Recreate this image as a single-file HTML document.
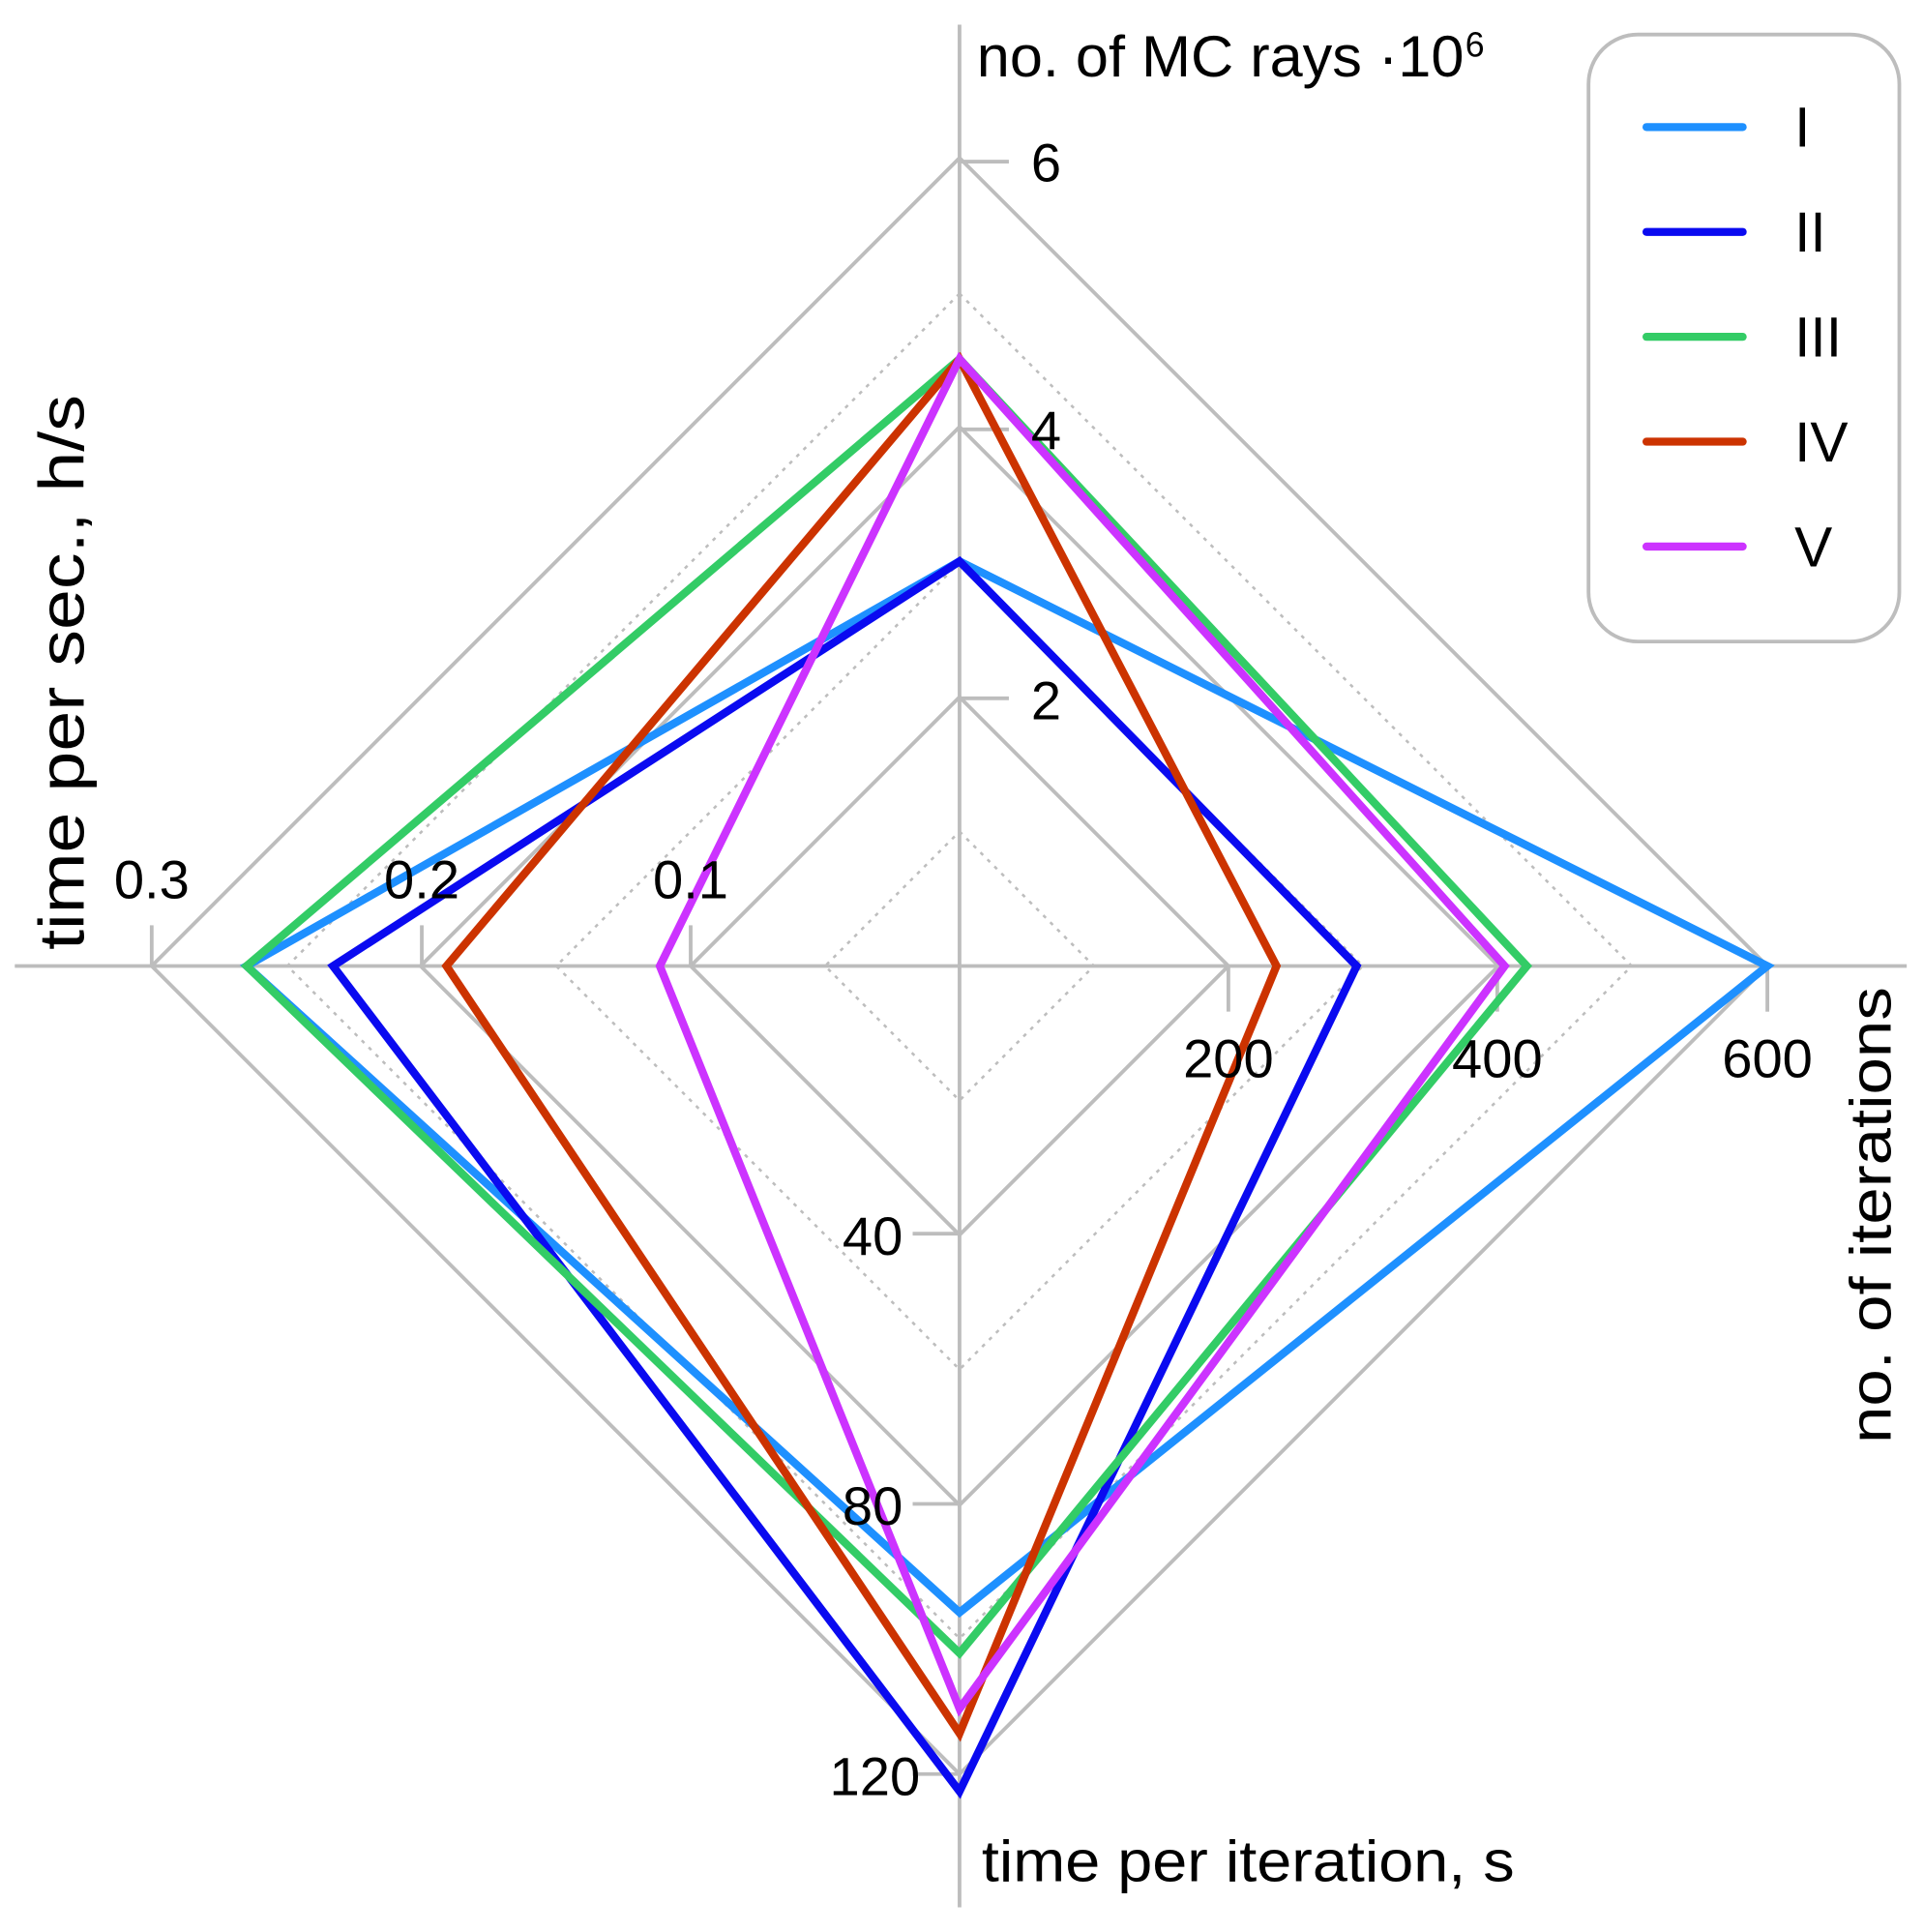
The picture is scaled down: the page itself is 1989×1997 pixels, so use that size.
<!DOCTYPE html>
<html><head><style>
html,body{margin:0;padding:0;background:#fff;}
svg{display:block;}
text{font-family:"Liberation Sans",sans-serif;fill:#000;}
</style></head><body>
<svg width="1989" height="1997" viewBox="0 0 1560 1566" preserveAspectRatio="none">
<g fill="none" stroke="#bdbdbd" stroke-width="3">
<line x1="778" y1="20" x2="778" y2="1546"/>
<line x1="12" y1="783" x2="1546" y2="783"/>
<polygon points="778,128 1433,783 778,1438 123,783"/>
<polygon points="778,346 1215,783 778,1220 341,783"/>
<polygon points="778,565 996,783 778,1001 560,783"/>
<line x1="778" y1="131" x2="818" y2="131"/><line x1="778" y1="348" x2="818" y2="348"/><line x1="778" y1="566" x2="818" y2="566"/>
<line x1="123" y1="783" x2="123" y2="750"/><line x1="342" y1="783" x2="342" y2="750"/><line x1="560" y1="783" x2="560" y2="750"/>
<line x1="996" y1="783" x2="996" y2="820"/><line x1="1214" y1="783" x2="1214" y2="820"/><line x1="1433" y1="783" x2="1433" y2="820"/>
<line x1="778" y1="1000" x2="740" y2="1000"/><line x1="778" y1="1219" x2="740" y2="1219"/><line x1="778" y1="1438" x2="740" y2="1438"/>
</g>
<g fill="none" stroke="#bdbdbd" stroke-width="2" stroke-dasharray="3,5">
<polygon points="778,674 887,783 778,892 669,783"/>
<polygon points="778,456 1105,783 778,1110 451,783"/>
<polygon points="778,238 1323,783 778,1328 233,783"/>
</g>
<g fill="none" stroke-width="6.5" stroke-linejoin="miter">
<polygon stroke="#1e90ff" points="778,455 1433,783 778,1307 200,783"/>
<polygon stroke="#0a0af0" points="778,455 1100,783 778,1452 270,783"/>
<polygon stroke="#33cc66" points="778,291 1238,783 778,1340 200,783"/>
<polygon stroke="#cc3300" points="778,291 1035,783 778,1405 362,783"/>
<polygon stroke="#cc33ff" points="778,291 1220,783 778,1385 535,783"/>
</g>
<g font-size="44">
<text x="792" y="62" font-size="47" textLength="395" lengthAdjust="spacingAndGlyphs">no. of MC rays ·10</text><text x="1188" y="46" font-size="28">6</text>
<text x="836" y="147">6</text><text x="836" y="364">4</text><text x="836" y="583">2</text>
<text x="123" y="728" text-anchor="middle">0.3</text><text x="342" y="728" text-anchor="middle">0.2</text><text x="560" y="728" text-anchor="middle">0.1</text>
<text x="996" y="873" text-anchor="middle">200</text><text x="1214" y="873" text-anchor="middle">400</text><text x="1433" y="873" text-anchor="middle">600</text>
<text x="732" y="1017" text-anchor="end">40</text><text x="732" y="1236" text-anchor="end">80</text><text x="746" y="1455" text-anchor="end">120</text>
<text x="796" y="1525" font-size="47" textLength="432" lengthAdjust="spacingAndGlyphs">time per iteration, s</text>
<text transform="translate(68,545) rotate(-90)" text-anchor="middle" font-size="52" textLength="450" lengthAdjust="spacingAndGlyphs">time per sec., h/s</text>
<text transform="translate(1533,985) rotate(-90)" text-anchor="middle" font-size="47" textLength="370" lengthAdjust="spacingAndGlyphs">no. of iterations</text>
</g>
<rect x="1288" y="28" width="252" height="492" rx="40" fill="#fff" stroke="#bdbdbd" stroke-width="3"/>
<g stroke-width="6.5" stroke-linecap="round">
<line x1="1335" y1="103" x2="1413" y2="103" stroke="#1e90ff"/>
<line x1="1335" y1="188" x2="1413" y2="188" stroke="#0a0af0"/>
<line x1="1335" y1="273" x2="1413" y2="273" stroke="#33cc66"/>
<line x1="1335" y1="358" x2="1413" y2="358" stroke="#cc3300"/>
<line x1="1335" y1="443" x2="1413" y2="443" stroke="#cc33ff"/>
</g>
<g font-size="46">
<text x="1455" y="119">I</text><text x="1455" y="204">II</text><text x="1455" y="289">III</text><text x="1455" y="374">IV</text><text x="1455" y="459">V</text>
</g>
</svg>
</body></html>
